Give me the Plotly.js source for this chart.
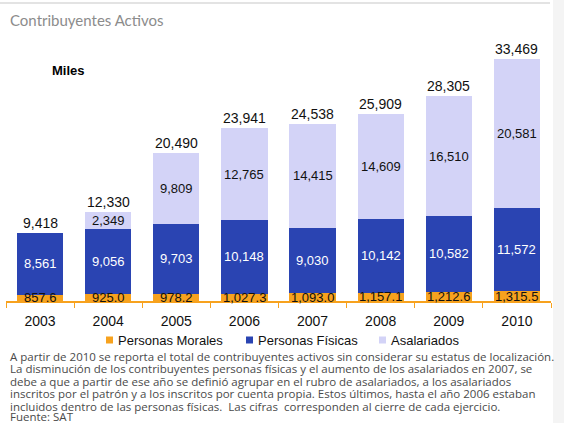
<!DOCTYPE html>
<html>
<head>
<meta charset="utf-8">
<script src="https://cdn.plot.ly/plotly-3.0.1.min.js"></script>
<style>
  html, body { margin: 0; padding: 0; background: #ffffff; }
  #chart { width: 564px; height: 423px; }
</style>
</head>
<body>
<div id="chart"></div>
<script>
// ---- Data (thousands) ----
const years = ['2003', '2004', '2005', '2006', '2007', '2008', '2009', '2010'];
const personasMorales = [857.6, 925.0, 978.2, 1027.3, 1093.0, 1157.1, 1212.6, 1315.5];
const personasFisicas = [8561, 9056, 9703, 10148, 9030, 10142, 10582, 11572];
const asalariados = [0, 2349, 9809, 12765, 14415, 14609, 16510, 20581];
const totales = [9418, 12330, 20490, 23941, 24538, 25909, 28305, 33469];
const seriesNames = ['Personas Morales', 'Personas Físicas', 'Asalariados'];

const footnoteLines = [
  'A partir de 2010 se reporta el total de contribuyentes activos sin considerar su estatus de localización.',
  'La disminución de los contribuyentes personas físicas y el aumento de los asalariados en 2007, se',
  'debe a que a partir de ese año se definió agrupar en el rubro de asalariados, a los asalariados',
  'inscritos por el patrón y a los inscritos por cuenta propia. Estos últimos, hasta el año 2006 estaban',
  'incluidos dentro de las personas físicas.  Las cifras  corresponden al cierre de cada ejercicio.',
  'Fuente: SAT'
];

// ---- Layout geometry (pixels) ----
const W = 564, H = 423;
const plotL = 6, plotR = 551, plotT = 45, plotB = 301;
const px2x = x => (x - plotL) / (plotR - plotL);
const px2y = y => (plotB - y) / (plotB - plotT);

const fmt0 = v => v.toLocaleString('en-US', {maximumFractionDigits: 0});
const fmt1 = v => v.toLocaleString('en-US', {minimumFractionDigits: 1, maximumFractionDigits: 1});

const baseFont = 'Liberation Sans, Arial, sans-serif';
const orange = '#F7A21E';
const blue = '#2A44B2';
const lav = '#D3D3F7';
const colors = [orange, blue, lav];

const traces = [
  {type: 'bar', name: seriesNames[0], x: years, y: personasMorales, marker: {color: orange}, hoverinfo: 'skip'},
  {type: 'bar', name: seriesNames[1], x: years, y: personasFisicas, marker: {color: blue}, hoverinfo: 'skip'},
  {type: 'bar', name: seriesNames[2], x: years, y: asalariados, marker: {color: lav}, hoverinfo: 'skip'}
];

const annotations = [];
const shapes = [];
const lbl = (i, y, text, size, color, yanchor) => annotations.push({
  x: i, y: y, xref: 'x', yref: 'y', text: text, showarrow: false,
  font: {family: baseFont, size: size, color: color},
  xanchor: 'center', yanchor: yanchor || 'middle'
});
years.forEach((yr, i) => {
  const m = personasMorales[i], f = personasFisicas[i], a = asalariados[i];
  lbl(i, m / 2, fmt1(m), 13, '#111111');
  lbl(i, m + f / 2, fmt0(f), 13, '#FFFFFF');
  if (a > 0) lbl(i, m + f + a / 2, fmt0(a), 13, '#111111');
  lbl(i, totales[i], fmt0(totales[i]), 14, '#111111', 'bottom');
});

// Legend (small square keys next to the names)
const legendX = [106, 246, 379];
const legendY = 340;
seriesNames.forEach((name, k) => {
  shapes.push({
    type: 'rect', xref: 'paper', yref: 'paper',
    x0: px2x(legendX[k]), x1: px2x(legendX[k] + 7),
    y0: px2y(legendY + 3.5), y1: px2y(legendY - 3.5),
    fillcolor: colors[k], line: {width: 0}
  });
  annotations.push({
    xref: 'paper', yref: 'paper', x: px2x(legendX[k] + 10), y: px2y(legendY),
    xanchor: 'left', yanchor: 'middle', showarrow: false, text: name,
    font: {family: baseFont, size: 13, color: '#111111'}
  });
});

// Title
annotations.push({
  xref: 'paper', yref: 'paper', x: px2x(8), y: px2y(20),
  xanchor: 'left', yanchor: 'middle', showarrow: false,
  text: 'Contribuyentes Activos',
  font: {family: 'Lato, Open Sans, sans-serif', size: 15, color: '#8C8C8C'}
});
// Units
annotations.push({
  xref: 'paper', yref: 'paper', x: px2x(50), y: px2y(70),
  xanchor: 'left', yanchor: 'middle', showarrow: false,
  text: '<b>Miles</b>',
  font: {family: baseFont, size: 13, color: '#000000'}
});
// Footnote
const footY = [356, 368.5, 381, 393.5, 406, 416.5];
footnoteLines.forEach((line, i) => {
  annotations.push({
    xref: 'paper', yref: 'paper', x: px2x(8), y: px2y(footY[i]),
    xanchor: 'left', yanchor: 'middle', showarrow: false,
    text: line,
    font: {family: 'Open Sans, sans-serif', size: 11.5, color: '#4A4A4A'}
  });
});

shapes.push(
  {type: 'rect', xref: 'paper', yref: 'paper', x0: px2x(553), x1: px2x(564), y0: px2y(423), y1: px2y(0),
   fillcolor: '#F4F4F4', line: {width: 0}, layer: 'below'},
  {type: 'line', xref: 'paper', yref: 'paper', x0: px2x(0), x1: px2x(550), y0: px2y(3), y1: px2y(3),
   line: {color: '#DADADA', width: 1.5}}
);

const layout = {
  width: W, height: H,
  margin: {l: plotL, r: W - plotR, t: plotT, b: H - plotB, pad: 0},
  paper_bgcolor: '#ffffff', plot_bgcolor: '#ffffff',
  barmode: 'stack', bargap: 0.32,
  showlegend: false,
  xaxis: {
    type: 'category', range: [-0.5, years.length - 0.5], autorange: false,
    showgrid: false, zeroline: false,
    showline: true, linecolor: orange, linewidth: 1.5,
    ticks: 'outside', tickson: 'boundaries', ticklen: 5, tickcolor: orange, tickwidth: 1,
    tickfont: {family: baseFont, size: 14, color: '#111111'},
    ticklabelstandoff: 7
  },
  yaxis: {
    range: [0, (plotB - plotT) / 7.23 * 1000], autorange: false,
    visible: false, showgrid: false, zeroline: false
  },
  annotations: annotations,
  shapes: shapes
};

Plotly.newPlot('chart', traces, layout, {displayModeBar: false, staticPlot: true});
</script>
</body>
</html>
